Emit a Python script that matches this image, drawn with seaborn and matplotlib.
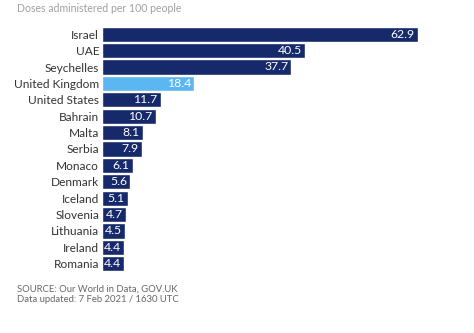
import matplotlib
matplotlib.use("Agg")
import matplotlib.pyplot as plt
import seaborn as sns
import pandas as pd

countries = ["Israel", "UAE", "Seychelles", "United Kingdom", "United States", "Bahrain",
             "Malta", "Serbia", "Monaco", "Denmark", "Iceland", "Slovenia", "Lithuania",
             "Ireland", "Romania"]
doses = [62.9, 40.5, 37.7, 18.4, 11.7, 10.7, 8.1, 7.9, 6.1, 5.6, 5.1, 4.7, 4.5, 4.4, 4.4]
highlight = "United Kingdom"

NAVY = "#16296a"
LIGHT = "#5cb6f2"

sns.set_theme(style="white")
plt.rcParams["font.family"] = ["Lato", "DejaVu Sans"]

df = pd.DataFrame({"country": countries, "doses": doses})
palette = {c: (LIGHT if c == highlight else NAVY) for c in countries}

fig = plt.figure(figsize=(4.74, 3.33), dpi=100)
ax = fig.add_axes([102 / 474, 1 - 272 / 333, (418 - 102) / 474, (272 - 26) / 333])
sns.barplot(data=df, x="doses", y="country", hue="country", palette=palette,
            order=countries, width=0.93, legend=False, ax=ax, saturation=1)
ax.set_xlim(0, 62.9)
ax.set_ylim(len(countries) - 0.5, -0.5)
ax.set_xlabel("")
ax.set_ylabel("")
ax.set_xticks([])
for s in ax.spines.values():
    s.set_visible(False)
ax.tick_params(axis="y", length=0, pad=2, labelsize=8.6, labelcolor="#333333")

for i, v in enumerate(doses):
    ax.text(v - 0.6, i, f"{v}", ha="right", va="center", color="white", fontsize=8.8)

fig.text(17 / 474, 1 - 8 / 333, "Doses administered per 100 people", ha="left", va="center",
         fontsize=7.6, color="#a0a0a0")
fig.text(17 / 474, 1 - 289 / 333, "SOURCE: Our World in Data, GOV.UK", ha="left", va="center",
         fontsize=6.8, color="#666666")
fig.text(17 / 474, 1 - 300 / 333, "Data updated: 7 Feb 2021 / 1630 UTC", ha="left", va="center",
         fontsize=6.8, color="#666666")

fig.savefig("out.png", dpi=100)
